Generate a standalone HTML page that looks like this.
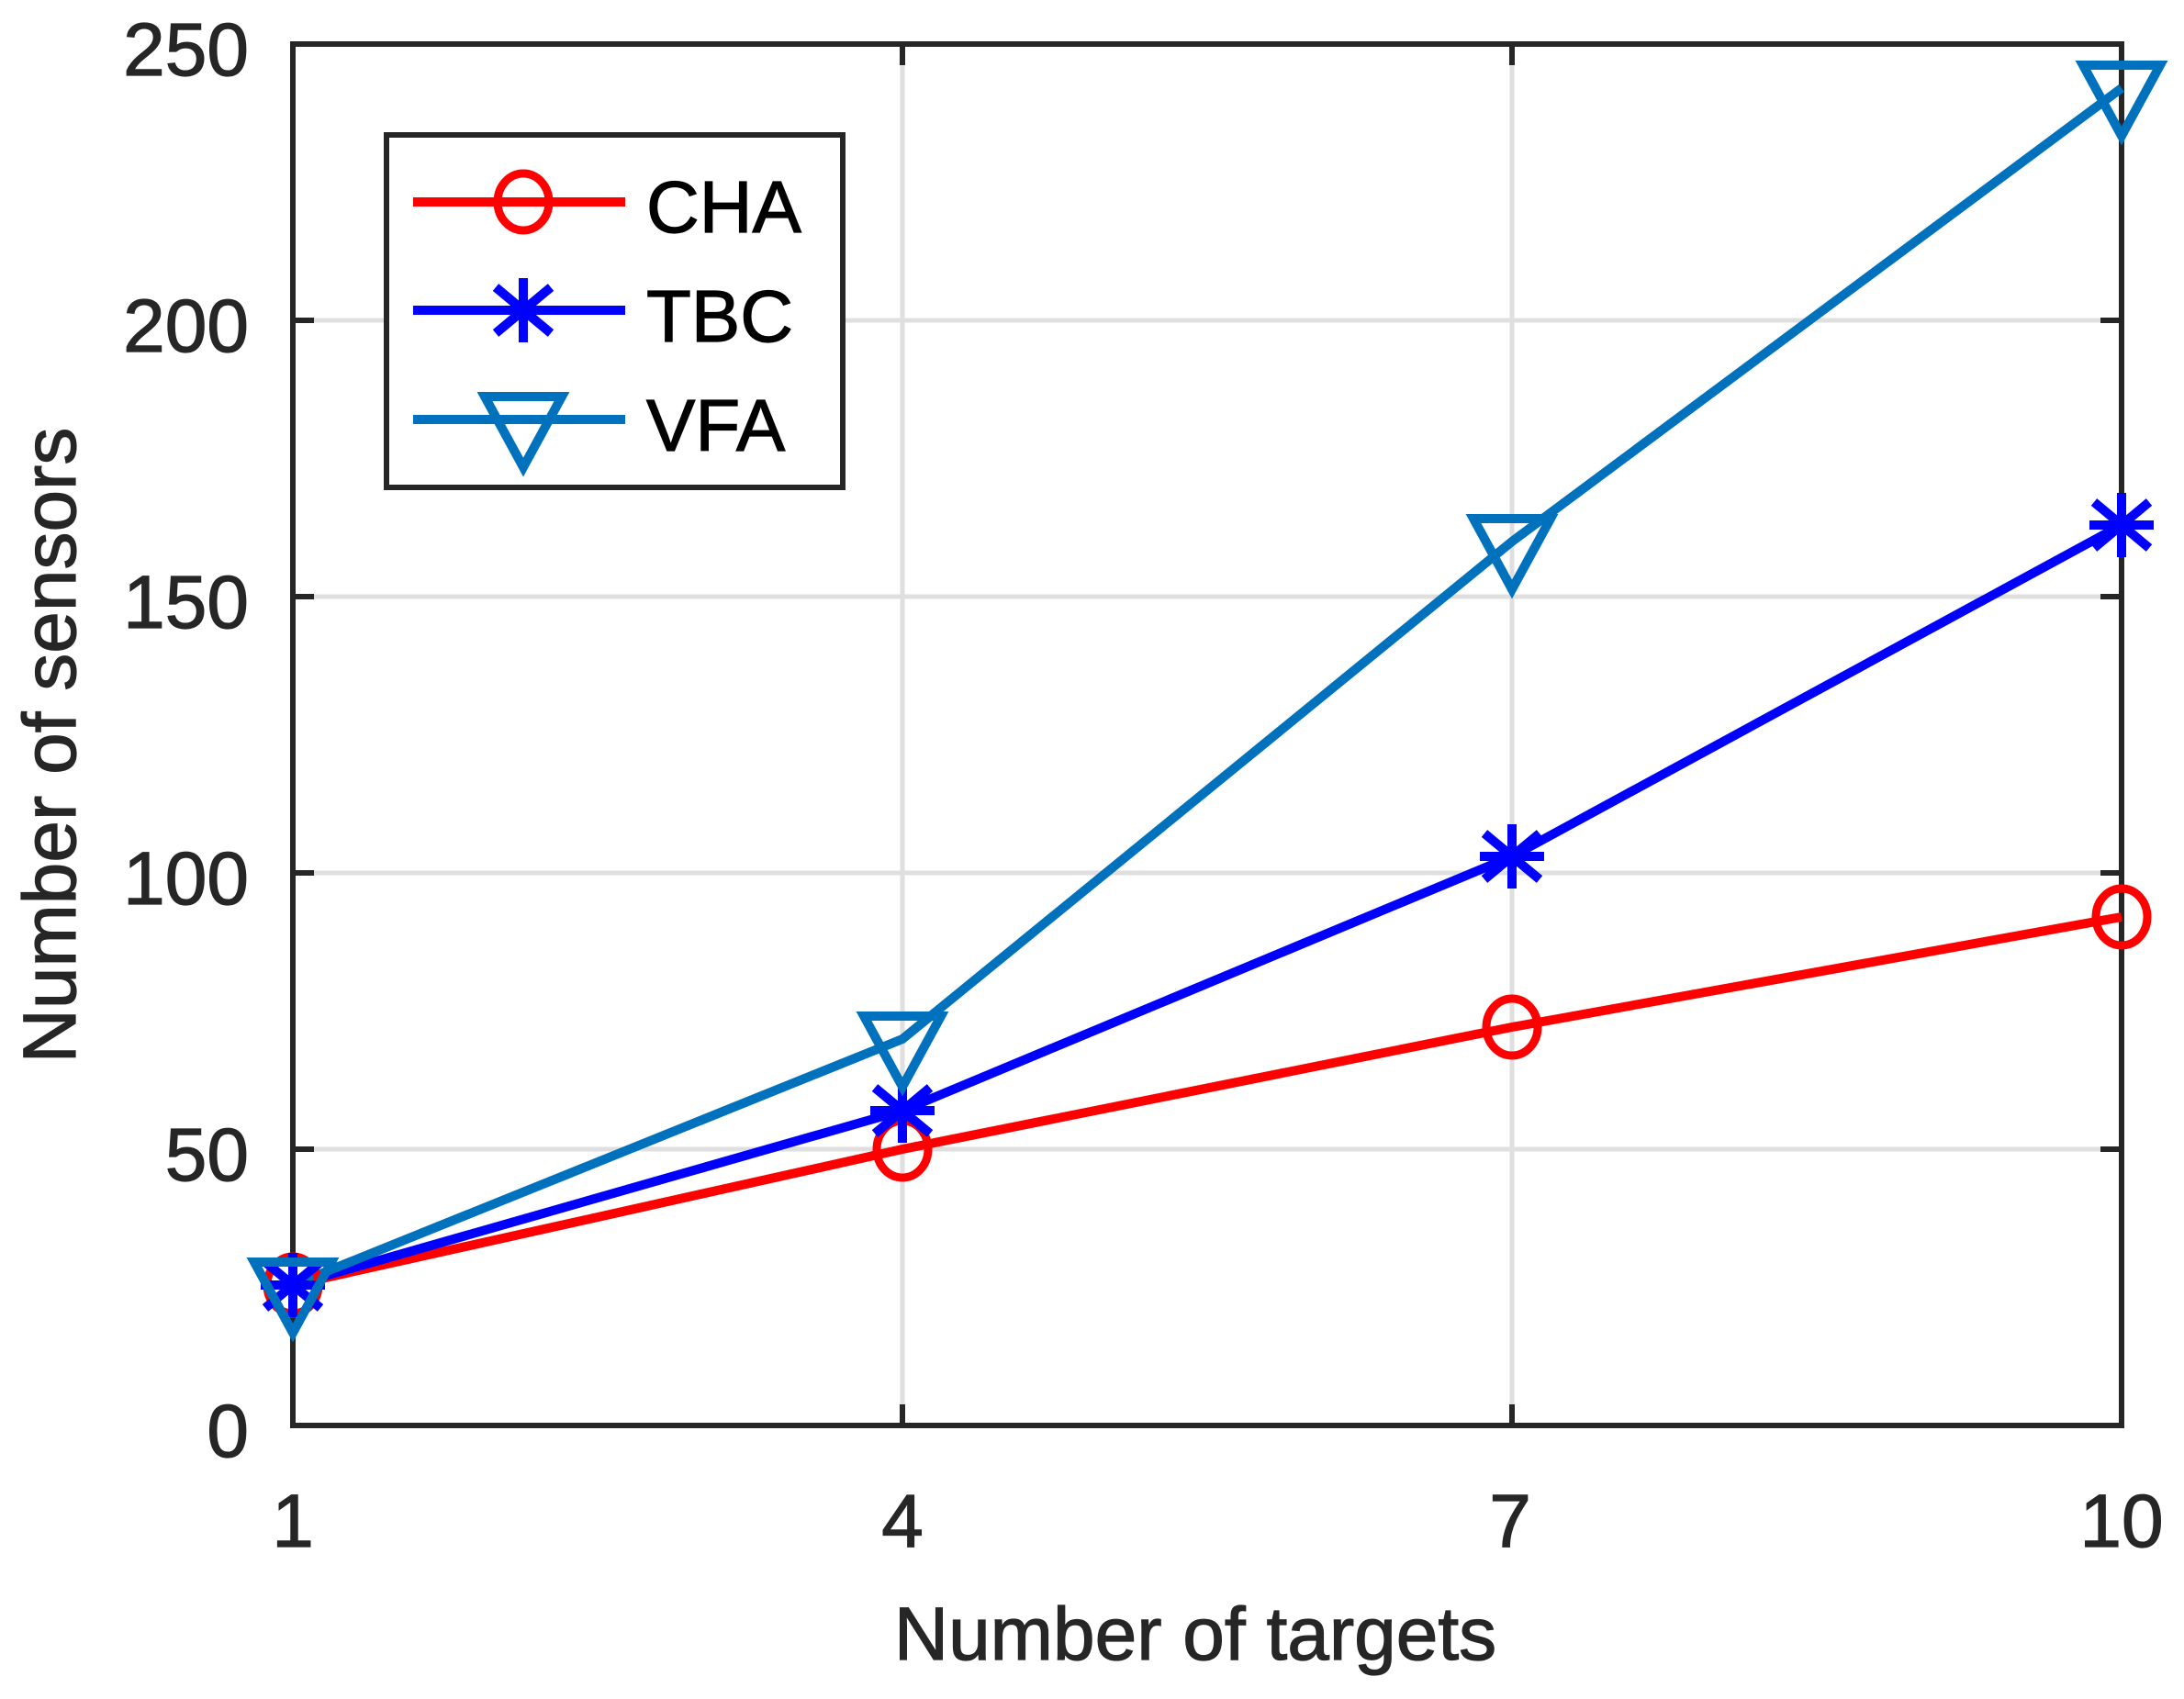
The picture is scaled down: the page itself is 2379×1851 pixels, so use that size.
<!DOCTYPE html>
<html><head><meta charset="utf-8"><style>html,body{margin:0;padding:0;background:#fff}svg{display:block}</style></head>
<body>
<svg width="2379" height="1851" viewBox="0 0 2379 1851" xmlns="http://www.w3.org/2000/svg" font-family="Liberation Sans, Arial, sans-serif">
<rect width="2379" height="1851" fill="#fff"/>
<g stroke="#dfdfdf" stroke-width="5">
<line x1="983" y1="48" x2="983" y2="1553"/>
<line x1="1647" y1="48" x2="1647" y2="1553"/>
<line x1="319" y1="1252" x2="2311" y2="1252"/>
<line x1="319" y1="951" x2="2311" y2="951"/>
<line x1="319" y1="650" x2="2311" y2="650"/>
<line x1="319" y1="349" x2="2311" y2="349"/>
</g>
<g stroke="#262626" stroke-width="6">
<line x1="983" y1="1553" x2="983" y2="1530"/><line x1="1647" y1="1553" x2="1647" y2="1530"/>
<line x1="983" y1="48" x2="983" y2="71"/><line x1="1647" y1="48" x2="1647" y2="71"/>
<line x1="319" y1="1252" x2="342" y2="1252"/><line x1="319" y1="951" x2="342" y2="951"/><line x1="319" y1="650" x2="342" y2="650"/><line x1="319" y1="349" x2="342" y2="349"/>
<line x1="2311" y1="1252" x2="2288" y2="1252"/><line x1="2311" y1="951" x2="2288" y2="951"/><line x1="2311" y1="650" x2="2288" y2="650"/><line x1="2311" y1="349" x2="2288" y2="349"/>
<rect x="319" y="48" width="1992" height="1505" fill="none"/>
</g>
<g fill="#262626" font-size="82" stroke="#262626" stroke-width="1.2">
<g text-anchor="end">
<text x="271" y="82">250</text><text x="271" y="383">200</text><text x="271" y="684">150</text><text x="271" y="985">100</text><text x="271" y="1286">50</text><text x="271" y="1587">0</text>
</g>
<g text-anchor="middle">
<text x="319" y="1685">1</text><text x="983" y="1685">4</text><text x="1645" y="1685">7</text><text x="2311" y="1685">10</text>
<text x="1302" y="1808">Number of targets</text>
<text transform="translate(82,812) rotate(-90)">Number of sensors</text>
</g>
</g>
<defs>
<g id="circ"><ellipse cx="0" cy="0" rx="28" ry="31" fill="none" stroke="#f00" stroke-width="9"/></g>
<g id="star" stroke="#00f" stroke-width="10"><line x1="0" y1="-35" x2="0" y2="35"/><line x1="-30" y1="-25" x2="30" y2="25"/><line x1="-30" y1="25" x2="30" y2="-25"/><line x1="-35" y1="0" x2="35" y2="0"/></g>
<g id="tri"><polygon points="-42,-25 42,-25 0,52" fill="none" stroke="#0072bd" stroke-width="10" stroke-linejoin="miter"/></g>
</defs>
<g fill="none" stroke-width="10" stroke-linejoin="round">
<polyline stroke="#f00" points="319,1400 983,1252 1647,1119 2311,999"/>
<polyline stroke="#00f" points="319,1400 983,1210 1647,933 2311,572"/>
<polyline stroke="#0072bd" points="319,1400 983,1132 1647,590 2311,96"/>
</g>
<use href="#circ" x="319" y="1400"/><use href="#circ" x="983" y="1252"/><use href="#circ" x="1647" y="1119"/><use href="#circ" x="2311" y="999"/>
<use href="#star" x="319" y="1400"/><use href="#star" x="983" y="1210"/><use href="#star" x="1647" y="933"/><use href="#star" x="2311" y="572"/>
<use href="#tri" x="319" y="1400"/><use href="#tri" x="983" y="1132"/><use href="#tri" x="1647" y="590"/><use href="#tri" x="2311" y="96"/>
<rect x="421" y="147" width="497" height="384" fill="#fff" stroke="#262626" stroke-width="6"/>
<line x1="450" y1="220" x2="681" y2="220" stroke="#f00" stroke-width="10"/>
<use href="#circ" x="570" y="220"/>
<line x1="450" y1="338" x2="681" y2="338" stroke="#00f" stroke-width="10"/>
<use href="#star" x="570" y="338"/>
<line x1="450" y1="457" x2="681" y2="457" stroke="#0072bd" stroke-width="10"/>
<use href="#tri" x="570" y="457"/>
<g fill="#000" font-size="80" stroke="#000" stroke-width="1.2">
<text x="704" y="253">CHA</text><text x="704" y="372">TBC</text><text x="704" y="491">VFA</text>
</g>
</svg>
</body></html>
